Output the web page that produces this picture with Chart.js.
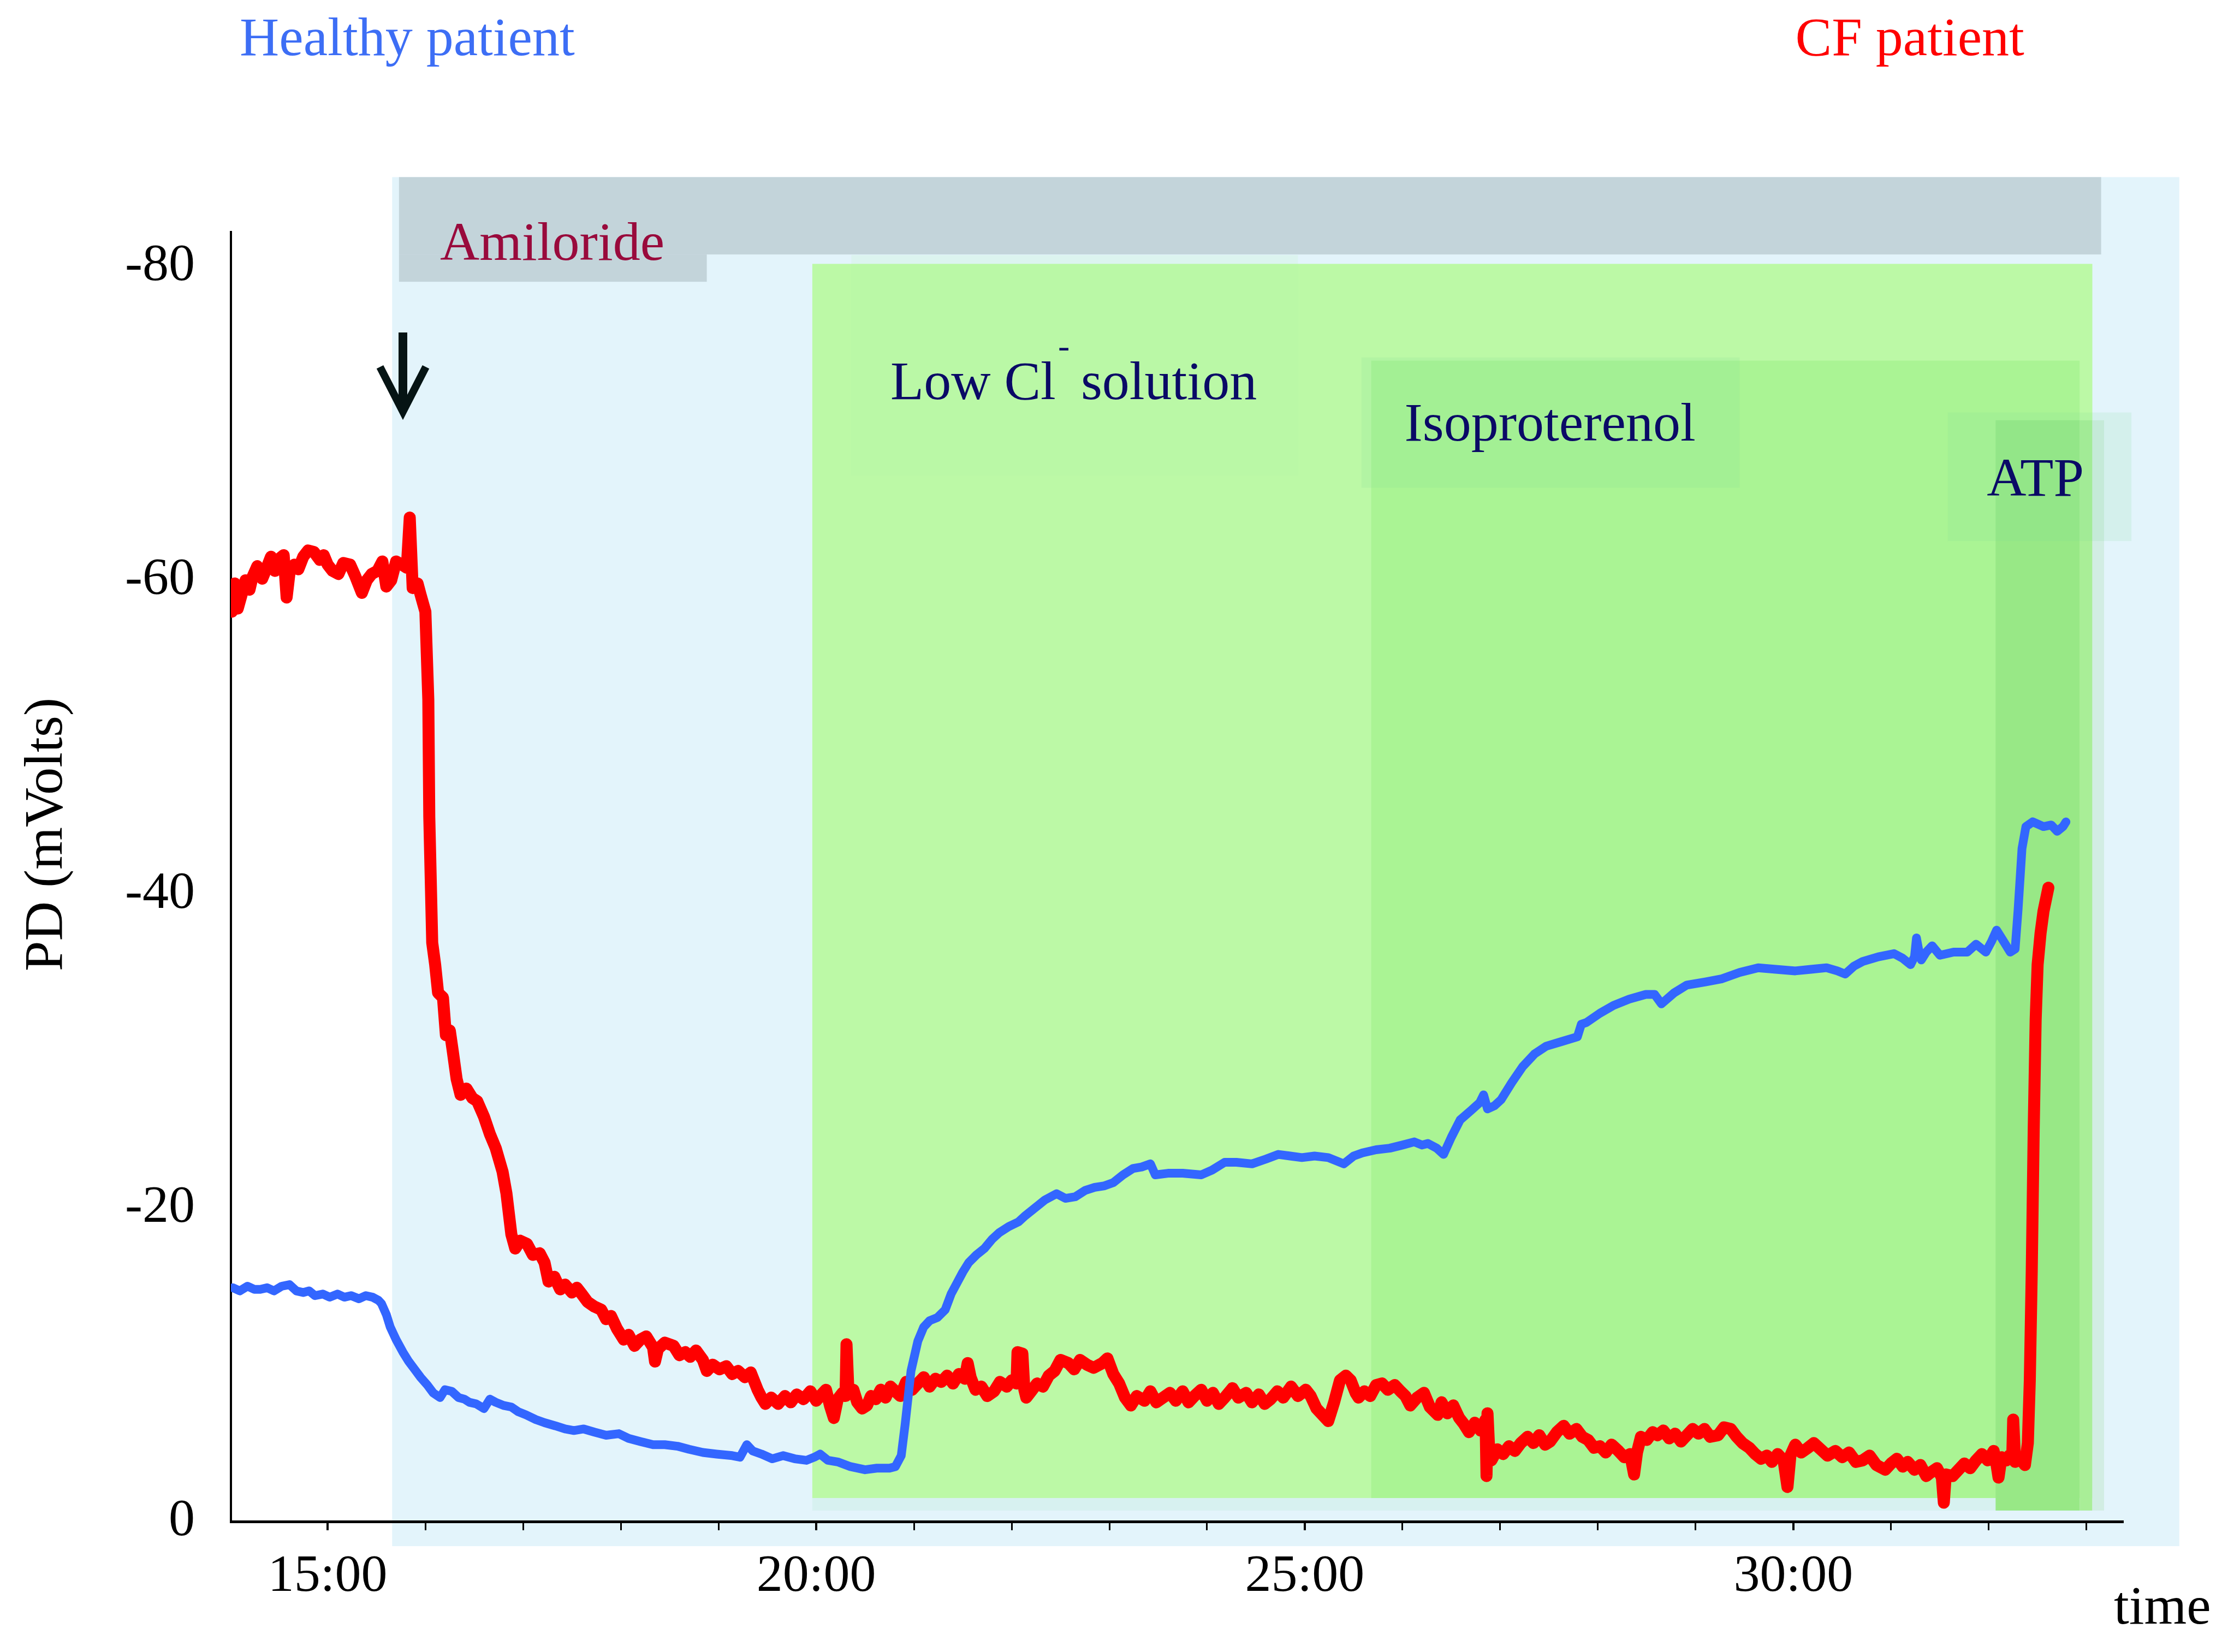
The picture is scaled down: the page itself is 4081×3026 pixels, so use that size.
<!DOCTYPE html>
<html><head><meta charset="utf-8">
<script src="https://cdn.jsdelivr.net/npm/chart.js@4.4.1/dist/chart.umd.min.js"></script>
<style>html,body{margin:0;padding:0;background:#fff;overflow:hidden}canvas{display:block}</style>
</head><body>
<canvas id="c" width="4081" height="3026" style="width:4081px;height:3026px"></canvas>
<script>
// ---- data (time in minutes, PD in mV) ----
const healthyTime = [14.03,14.10,14.18,14.25,14.31,14.38,14.45,14.53,14.61,14.68,14.75,14.81,14.87,14.95,15.02,15.10,15.17,15.24,15.32,15.39,15.46,15.52,15.55,15.60,15.64,15.70,15.77,15.83,15.89,15.95,16.02,16.08,16.15,16.20,16.27,16.34,16.40,16.45,16.52,16.60,16.66,16.72,16.80,16.88,16.95,17.03,17.13,17.22,17.33,17.43,17.52,17.62,17.73,17.85,17.98,18.08,18.20,18.33,18.45,18.58,18.70,18.84,18.98,19.14,19.22,19.29,19.35,19.44,19.55,19.66,19.78,19.90,19.98,20.04,20.12,20.22,20.35,20.50,20.62,20.75,20.81,20.87,20.91,20.97,21.04,21.10,21.16,21.24,21.32,21.38,21.44,21.50,21.56,21.64,21.72,21.80,21.87,21.97,22.07,22.14,22.22,22.34,22.46,22.55,22.65,22.75,22.85,22.95,23.04,23.14,23.24,23.33,23.42,23.47,23.60,23.75,23.94,24.05,24.18,24.30,24.46,24.60,24.73,24.85,24.97,25.10,25.24,25.32,25.40,25.50,25.59,25.73,25.87,26.00,26.12,26.20,26.26,26.35,26.42,26.50,26.59,26.70,26.79,26.83,26.87,26.94,27.01,27.12,27.23,27.35,27.47,27.63,27.79,27.83,27.88,28.02,28.16,28.32,28.49,28.58,28.65,28.78,28.91,29.10,29.27,29.45,29.64,29.82,30.02,30.18,30.34,30.45,30.53,30.62,30.71,30.87,31.03,31.12,31.20,31.24,31.26,31.29,31.31,31.36,31.42,31.50,31.64,31.78,31.87,31.97,32.03,32.08,32.15,32.22,32.27,32.30,32.34,32.38,32.45,32.56,32.64,32.70,32.76,32.79];
const healthyPD = [-14.9,-14.7,-15.0,-14.8,-14.8,-14.9,-14.7,-15.0,-15.1,-14.7,-14.6,-14.7,-14.4,-14.5,-14.3,-14.5,-14.3,-14.4,-14.2,-14.4,-14.3,-14.1,-13.9,-13.2,-12.4,-11.6,-10.8,-10.2,-9.7,-9.2,-8.7,-8.2,-7.9,-8.4,-8.3,-7.9,-7.8,-7.6,-7.5,-7.2,-7.8,-7.6,-7.4,-7.3,-7.0,-6.8,-6.5,-6.3,-6.1,-5.9,-5.8,-5.9,-5.7,-5.5,-5.6,-5.3,-5.1,-4.9,-4.9,-4.8,-4.6,-4.4,-4.3,-4.2,-4.1,-4.9,-4.5,-4.3,-4.0,-4.2,-4.0,-3.9,-4.1,-4.3,-3.9,-3.8,-3.5,-3.3,-3.4,-3.4,-3.5,-4.2,-6.2,-9.6,-11.5,-12.4,-12.8,-13.0,-13.5,-14.5,-15.2,-15.9,-16.5,-17.0,-17.4,-18.0,-18.4,-18.8,-19.1,-19.5,-19.9,-20.5,-20.9,-20.6,-20.7,-21.1,-21.3,-21.4,-21.6,-22.1,-22.5,-22.6,-22.8,-22.1,-22.2,-22.2,-22.1,-22.4,-22.9,-22.9,-22.8,-23.1,-23.4,-23.3,-23.2,-23.3,-23.2,-23.0,-22.8,-23.3,-23.5,-23.7,-23.8,-24.0,-24.2,-24.0,-24.1,-23.8,-23.4,-24.5,-25.6,-26.2,-26.7,-27.2,-26.3,-26.5,-26.9,-28.0,-29.0,-29.8,-30.3,-30.6,-30.9,-31.7,-31.8,-32.4,-32.9,-33.3,-33.6,-33.6,-33.0,-33.7,-34.2,-34.4,-34.6,-35.0,-35.3,-35.2,-35.1,-35.2,-35.3,-35.1,-34.9,-35.4,-35.7,-36.0,-36.2,-35.9,-35.5,-36.0,-37.2,-36.2,-35.8,-36.3,-36.7,-36.1,-36.3,-36.3,-36.8,-36.3,-37.0,-37.7,-37.0,-36.3,-36.5,-39.0,-42.9,-44.3,-44.6,-44.3,-44.4,-44.0,-44.3,-44.6];

const cfTime = [14.02,14.05,14.08,14.12,14.16,14.20,14.23,14.28,14.33,14.37,14.42,14.46,14.51,14.55,14.58,14.61,14.66,14.70,14.75,14.80,14.86,14.92,14.96,15.00,15.05,15.11,15.16,15.23,15.28,15.35,15.40,15.45,15.51,15.56,15.60,15.65,15.70,15.76,15.81,15.84,15.87,15.92,15.95,16.00,16.03,16.04,16.07,16.10,16.13,16.18,16.21,16.25,16.28,16.32,16.36,16.42,16.48,16.53,16.60,16.66,16.72,16.79,16.83,16.88,16.92,16.97,17.04,17.10,17.17,17.22,17.26,17.32,17.38,17.43,17.50,17.55,17.60,17.66,17.73,17.80,17.85,17.90,17.96,18.03,18.08,18.14,18.20,18.26,18.33,18.35,18.38,18.45,18.54,18.60,18.66,18.71,18.77,18.84,18.88,18.94,19.01,19.08,19.14,19.20,19.27,19.33,19.40,19.44,19.48,19.54,19.61,19.68,19.74,19.80,19.87,19.94,20.00,20.04,20.10,20.14,20.18,20.22,20.27,20.30,20.31,20.33,20.38,20.42,20.47,20.52,20.56,20.61,20.66,20.71,20.76,20.81,20.86,20.92,20.98,21.04,21.10,21.16,21.22,21.28,21.34,21.40,21.46,21.52,21.55,21.58,21.63,21.69,21.75,21.82,21.88,21.95,22.00,22.05,22.06,22.11,22.13,22.15,22.20,22.26,22.32,22.38,22.44,22.50,22.58,22.64,22.70,22.77,22.84,22.93,22.98,23.04,23.10,23.16,23.22,23.28,23.36,23.42,23.48,23.55,23.62,23.68,23.75,23.81,23.87,23.94,24.00,24.06,24.12,24.18,24.26,24.32,24.40,24.46,24.53,24.59,24.65,24.72,24.78,24.86,24.93,25.01,25.06,25.12,25.18,25.24,25.30,25.36,25.42,25.47,25.52,25.55,25.61,25.67,25.73,25.79,25.85,25.92,25.98,26.03,26.08,26.15,26.22,26.28,26.36,26.40,26.46,26.52,26.58,26.63,26.68,26.74,26.80,26.85,26.86,26.87,26.89,26.91,26.97,27.03,27.09,27.15,27.21,27.28,27.34,27.40,27.46,27.51,27.58,27.65,27.71,27.78,27.84,27.90,27.96,28.02,28.08,28.14,28.21,28.27,28.33,28.37,28.40,28.44,28.50,28.56,28.61,28.67,28.73,28.79,28.85,28.91,28.97,29.03,29.09,29.15,29.23,29.29,29.36,29.42,29.48,29.55,29.61,29.67,29.73,29.78,29.84,29.90,29.94,29.97,30.02,30.08,30.15,30.21,30.28,30.35,30.43,30.50,30.57,30.64,30.71,30.78,30.85,30.94,31.00,31.06,31.12,31.17,31.24,31.30,31.36,31.40,31.47,31.52,31.54,31.56,31.63,31.69,31.75,31.81,31.87,31.93,31.99,32.05,32.08,32.10,32.13,32.18,32.21,32.24,32.25,32.27,32.32,32.37,32.40,32.42,32.44,32.46,32.48,32.50,32.53,32.56,32.58,32.61];
const cfPD = [-58.0,-59.8,-58.2,-59.1,-60.0,-59.4,-60.2,-60.9,-60.1,-60.7,-61.5,-60.6,-61.4,-61.6,-58.9,-60.5,-61.0,-60.7,-61.5,-61.9,-61.8,-61.3,-61.6,-61.0,-60.6,-60.4,-61.1,-61.0,-60.3,-59.2,-60.0,-60.4,-60.6,-61.2,-59.6,-60.0,-61.2,-61.0,-60.8,-64.0,-59.5,-59.8,-59.1,-58.0,-52.4,-44.9,-36.9,-35.5,-33.7,-33.4,-31.0,-31.3,-30.0,-28.2,-27.2,-27.6,-27.0,-26.8,-25.8,-24.7,-23.8,-22.3,-20.9,-18.3,-17.4,-17.9,-17.7,-17.0,-17.1,-16.5,-15.3,-15.6,-14.8,-15.1,-14.6,-14.9,-14.5,-14.0,-13.7,-13.5,-12.9,-13.1,-12.3,-11.6,-11.9,-11.2,-11.6,-11.8,-11.1,-10.2,-11.0,-11.4,-11.2,-10.6,-10.8,-10.5,-10.9,-10.3,-9.6,-10.0,-9.7,-9.9,-9.4,-9.6,-9.2,-9.5,-8.4,-7.9,-7.5,-7.9,-7.5,-8.0,-7.6,-8.1,-7.8,-8.3,-7.7,-8.0,-8.4,-7.4,-6.6,-7.8,-8.2,-8.0,-11.3,-8.2,-8.4,-7.6,-7.2,-7.4,-8.0,-7.8,-8.4,-7.9,-8.6,-8.3,-8.0,-8.9,-8.4,-8.8,-9.2,-8.6,-9.1,-8.9,-9.3,-8.8,-9.4,-9.1,-10.1,-9.2,-8.4,-8.6,-8.0,-8.3,-8.9,-8.6,-9.0,-8.8,-10.8,-10.7,-8.4,-7.9,-8.3,-8.8,-8.6,-9.3,-9.6,-10.3,-10.1,-9.7,-10.3,-10.0,-9.8,-10.1,-10.4,-9.4,-8.8,-7.9,-7.4,-8.0,-7.7,-8.3,-7.6,-7.9,-8.2,-7.7,-8.3,-7.6,-8.0,-8.4,-7.7,-8.2,-7.5,-7.9,-8.5,-7.9,-8.2,-7.6,-8.1,-7.5,-7.8,-8.3,-7.9,-8.6,-8.0,-8.4,-8.0,-7.2,-6.8,-6.4,-7.6,-9.0,-9.3,-9.0,-8.2,-7.9,-8.3,-8.0,-8.7,-8.8,-8.4,-8.7,-8.3,-8.0,-7.4,-7.9,-8.2,-7.3,-6.8,-7.6,-6.9,-7.4,-6.6,-6.2,-5.7,-6.3,-5.8,-6.5,-2.9,-6.9,-4.2,-3.9,-4.6,-4.3,-4.8,-4.5,-5.0,-5.4,-5.0,-5.5,-4.9,-5.1,-5.7,-6.1,-5.6,-5.9,-5.4,-5.2,-4.7,-4.8,-4.4,-4.9,-4.5,-4.1,-4.3,-3.0,-4.4,-5.4,-5.2,-5.7,-5.5,-5.8,-5.3,-5.6,-5.1,-5.5,-5.9,-5.6,-5.9,-5.4,-5.5,-6.0,-5.9,-5.4,-5.0,-4.7,-4.3,-4.0,-4.2,-3.8,-4.3,-3.9,-2.2,-4.2,-4.9,-4.4,-4.7,-5.0,-4.6,-4.2,-4.5,-4.1,-4.4,-3.8,-3.9,-4.2,-3.6,-3.3,-3.7,-4.0,-3.5,-3.8,-3.3,-3.6,-2.9,-3.1,-3.4,-2.8,-1.2,-3.0,-2.9,-3.3,-3.7,-3.4,-3.9,-4.3,-3.9,-4.5,-3.6,-2.8,-4.1,-3.9,-4.2,-4.0,-6.5,-3.8,-4.0,-3.6,-5.0,-9.0,-16.0,-25.0,-32.0,-35.5,-37.5,-38.9,-39.5,-40.4];

const yTickValues = [-80, -60, -40, -20, 0];
const xMajorTickValues = [15, 20, 25, 30];
const xTickLabels = ['15:00', '20:00', '25:00', '30:00'];
const titleLabels = ['Healthy patient', 'CF patient'];
const phaseLabels = ['Amiloride', 'Low Cl', 'solution', 'Isoproterenol', 'ATP'];
// phase start/end times (minutes)
const amilorideSpan = [15.73, 33.15];
const lowClSpan = [19.96, 33.06];
const isoSpan = [25.68, 32.93];
const atpSpan = [32.07, 33.18];

const FONT = '"Liberation Serif", "Times New Roman", serif';

const bgPlugin = {
  id: 'bg',
  beforeDraw(chart) {
    const { ctx, scales: { x, y } } = chart;
    const rect = (t0, t1, v0, v1, color) => {
      const X0 = x.getPixelForValue(t0), X1 = x.getPixelForValue(t1);
      const Y0 = y.getPixelForValue(v0), Y1 = y.getPixelForValue(v1);
      ctx.fillStyle = color;
      ctx.fillRect(Math.min(X0, X1), Math.min(Y0, Y1), Math.abs(X1 - X0), Math.abs(Y1 - Y0));
    };
    ctx.save();
    ctx.fillStyle = '#ffffff';
    ctx.fillRect(0, 0, chart.width, chart.height);
    // light blue experiment area
    rect(15.66, 33.95, -85.7, 1.57, '#e3f4fb');
    // amiloride bar
    rect(amilorideSpan[0], amilorideSpan[1], -85.7, -80.77, '#c3d4da');
    rect(amilorideSpan[0], 18.88, -80.77, -79.03, '#c3d4da');
    // low Cl- solution
    rect(lowClSpan[0], lowClSpan[1], -80.17, -1.5, '#bcf9a6');
    rect(20.36, 24.93, -80.73, -66.7, 'rgba(180,250,170,0.14)');
    // isoproterenol
    rect(isoSpan[0], isoSpan[1], -74.0, -1.5, '#aaf494');
    rect(25.58, 29.45, -74.2, -65.9, 'rgba(120,220,150,0.14)');
    // ATP
    rect(atpSpan[0], isoSpan[1], -70.2, -0.7, '#98e886');
    rect(isoSpan[1], lowClSpan[1], -70.2, -0.7, '#a9ee97');
    rect(lowClSpan[1], atpSpan[1], -70.2, -0.7, '#d2ede3');
    rect(31.58, 33.46, -70.7, -62.5, 'rgba(120,220,150,0.14)');
    rect(lowClSpan[0], atpSpan[0], -1.5, -0.7, 'rgba(120,220,150,0.10)');
    ctx.restore();
  },
  afterDraw(chart) {
    const { ctx, scales: { x, y } } = chart;
    const px = t => x.getPixelForValue(t), py = v => y.getPixelForValue(v);
    ctx.save();
    ctx.textAlign = 'left';
    ctx.textBaseline = 'alphabetic';
    const txt = (s, t, v, color, size) => {
      ctx.fillStyle = color;
      ctx.font = size + 'px ' + FONT;
      ctx.fillText(s, px(t), py(v));
    };
    txt(titleLabels[0], 14.10, -93.46, '#3d6ef5', 100);
    txt(titleLabels[1], 30.02, -93.46, '#ff0000', 100);
    txt(phaseLabels[0], 16.15, -80.42, '#990a3c', 100);
    // Low Cl- solution
    ctx.fillStyle = '#0a0a66';
    ctx.font = '100px ' + FONT;
    const x0 = px(20.76), b0 = py(-71.55);
    ctx.fillText(phaseLabels[1], x0, b0);
    const w1 = ctx.measureText(phaseLabels[1]).width;
    ctx.font = '64px ' + FONT;
    ctx.fillText('-', x0 + w1 + 4, b0 - 76);
    ctx.font = '100px ' + FONT;
    ctx.fillText(phaseLabels[2], x0 + w1 + 46, b0);
    txt(phaseLabels[3], 26.02, -68.9, '#0a0a66', 100);
    txt(phaseLabels[4], 31.98, -65.4, '#0a0a66', 100);
    // axis titles
    txt('time', 33.28, 6.5, '#000000', 100);
    ctx.save();
    ctx.translate(px(12.13), py(-43.8));
    ctx.rotate(-Math.PI / 2);
    ctx.textAlign = 'center';
    ctx.textBaseline = 'middle';
    ctx.fillStyle = '#000000';
    ctx.font = '100px ' + FONT;
    ctx.fillText('PD (mVolts)', 0, 0);
    ctx.restore();
    // amiloride arrow
    const ax = px(15.77);
    ctx.strokeStyle = '#061414';
    ctx.lineCap = 'butt';
    ctx.lineWidth = 16;
    ctx.beginPath();
    ctx.moveTo(ax, py(-75.8));
    ctx.lineTo(ax, py(-70.9));
    ctx.stroke();
    ctx.lineWidth = 14;
    ctx.lineJoin = 'miter';
    ctx.beginPath();
    ctx.moveTo(ax - 42, py(-73.6));
    ctx.lineTo(ax, py(-70.75));
    ctx.lineTo(ax + 42, py(-73.6));
    ctx.stroke();
    ctx.restore();
  }
};

const healthyData = healthyTime.map((t, i) => ({ x: t, y: healthyPD[i] }));
const cfData = cfTime.map((t, i) => ({ x: t, y: cfPD[i] }));

new Chart(document.getElementById('c'), {
  type: 'line',
  data: {
    datasets: [
      { label: 'Healthy patient', data: healthyData, borderColor: '#3366ff', borderWidth: 16, pointRadius: 0, tension: 0, borderJoinStyle: 'round', borderCapStyle: 'round' },
      { label: 'CF patient', data: cfData, borderColor: '#ff0000', borderWidth: 22, pointRadius: 0, tension: 0, borderJoinStyle: 'round', borderCapStyle: 'round' }
    ]
  },
  options: {
    responsive: false,
    devicePixelRatio: 1,
    animation: false,
    layout: { padding: { top: 425, right: 193, left: 0, bottom: 0 } },
    plugins: { legend: { display: false }, tooltip: { enabled: false } },
    scales: {
      x: {
        type: 'linear', position: 'bottom', min: 14.01, max: 33.37,
        afterBuildTicks(s) { const t = []; for (let m = 15; m <= 33; m++) t.push({ value: m }); s.ticks = t; },
        afterFit(s) { s.height = 239; },
        ticks: {
          autoSkip: false, maxRotation: 0, minRotation: 0, padding: 28, color: '#000',
          font: { family: FONT, size: 96 },
          callback: (v) => { const i = xMajorTickValues.indexOf(v); return i >= 0 ? xTickLabels[i] : ''; }
        },
        grid: {
          display: true, drawOnChartArea: false, drawTicks: true, tickLength: 16, color: '#000',
          lineWidth: (c) => (c.tick && xMajorTickValues.includes(c.tick.value)) ? 4 : 3
        },
        border: { display: true, color: '#000', width: 5 }
      },
      y: {
        type: 'linear', reverse: true, min: -82.2, max: 0,
        afterBuildTicks(s) { s.ticks = yTickValues.map(v => ({ value: v })); },
        afterFit(s) { s.width = 423; },
        ticks: { padding: 66, color: '#000', font: { family: FONT, size: 96 }, callback: (v) => String(v) },
        grid: { display: false, drawTicks: false },
        border: { display: true, color: '#000', width: 4 }
      }
    }
  },
  plugins: [bgPlugin]
});
</script>
</body></html>
